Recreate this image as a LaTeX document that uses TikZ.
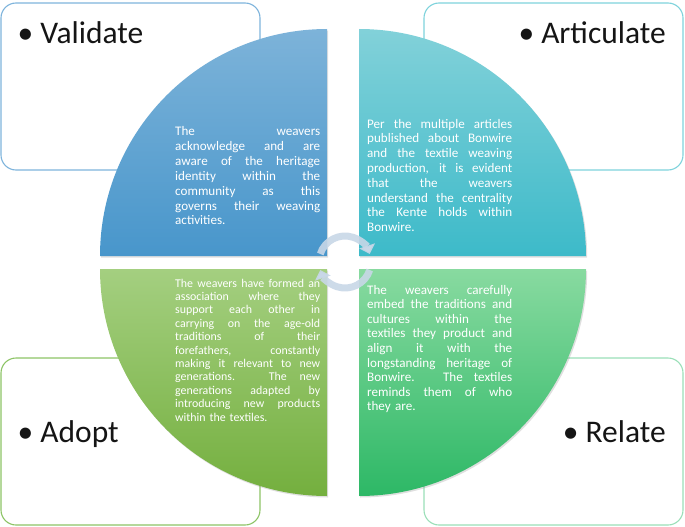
\documentclass[tikz,border=0pt]{standalone}
\usepackage{fontspec}
\setmainfont{Carlito}
\usetikzlibrary{arrows.meta,shadows}
\definecolor{bluetop}{HTML}{7DB3D9}
\definecolor{bluebot}{HTML}{4896CB}
\definecolor{tealtop}{HTML}{82D1D9}
\definecolor{tealbot}{HTML}{3DBAC9}
\definecolor{lgtop}{HTML}{A4CF80}
\definecolor{lgbot}{HTML}{74AF3E}
\definecolor{rgtop}{HTML}{88DAA0}
\definecolor{rgbot}{HTML}{2DB866}
\definecolor{bluebd}{HTML}{7EB4DC}
\definecolor{tealbd}{HTML}{7ED3DC}
\definecolor{lgbd}{HTML}{8DC466}
\definecolor{rgbd}{HTML}{9ADFB8}
\definecolor{cyccol}{HTML}{C8D7E7}
\definecolor{labcol}{HTML}{151515}
\newcommand{\jl}[1]{{\spaceskip=0pt\xspaceskip=0pt\makebox[145pt][s]{#1}}}
\begin{document}
\begin{tikzpicture}[x=1pt,y=-1pt,
  framebox/.style={draw, line width=1.1pt, fill=white, rounded corners=15pt,
    minimum width=259pt, minimum height=167pt, inner sep=0pt},
  quad/.style={drop shadow={opacity=0.25, shadow xshift=1.2pt, shadow yshift=-1.5pt}},
  lab/.style={inner sep=0pt, font=\fontsize{31.5}{36}\selectfont, text=labcol},
  body/.style={inner sep=0pt, text width=145pt, align=left, text=white, anchor=base west},
  cyc/.style={line width=7pt, draw=cyccol, draw opacity=0.9},
  tip/.style={-{Triangle[length=8.5pt,width=16pt]}}
]
\useasboundingbox (0,0) rectangle (685,527);

% frames
\node[framebox, draw=bluebd] (vbox) at (130.5,86.5) {};
\node[framebox, draw=tealbd] (abox) at (553.5,86.5) {};
\node[framebox, draw=lgbd] (dbox) at (130.5,441.5) {};
\node[framebox, draw=rgbd] (rbox) at (553.5,441.5) {};

% labels
\node[lab, anchor=base west] (vlab) at (17.5,44) {•\hspace{7pt}Validate};
\node[lab, anchor=base east] (alab) at (666,44) {•\hspace{7pt}Articulate};
\node[lab, anchor=base west] (dlab) at (17.5,442) {•\hspace{7pt}Adopt};
\node[lab, anchor=base east] (rlab) at (666,442) {•\hspace{7pt}Relate};

% quadrants
\path[quad, top color=bluetop, bottom color=bluebot]
  (327,256) -- (100,256) arc[start angle=180, end angle=270, radius=227] -- cycle;
\path[quad, top color=tealtop, bottom color=tealbot]
  (359,256) -- (359,29) arc[start angle=270, end angle=360, radius=227] -- cycle;
\path[quad, top color=lgtop, bottom color=lgbot]
  (327,269) -- (327,496) arc[start angle=90, end angle=180, radius=227] -- cycle;
\path[quad, top color=rgtop, bottom color=rgbot]
  (359,269) -- (586,269) arc[start angle=0, end angle=90, radius=227] -- cycle;

% cycle arrows
\coordinate (c) at (345,262);
\draw[cyc, tip] ([shift={(198:26)}]c) arc[start angle=198, end angle=342, radius=26];
\draw[cyc, tip] ([shift={(18:26)}]c) arc[start angle=18, end angle=162, radius=26];

% texts
\node[body, font=\fontsize{13.1}{14.9}\selectfont] (vtxt) at (175,135.5) {%
\jl{The weavers}\\
\jl{acknowledge and are}\\
\jl{aware of the heritage}\\
\jl{identity within the}\\
\jl{community as this}\\
\jl{governs their weaving}\\
activities.};

\node[body, font=\fontsize{13.1}{14.8}\selectfont] (atxt) at (367,128) {%
\jl{Per the multiple articles}\\
\jl{published about Bonwire}\\
\jl{and the textile weaving}\\
\jl{production, it is evident}\\
\jl{that the weavers}\\
\jl{understand the centrality}\\
\jl{the Kente holds within}\\
Bonwire.};

\node[body, font=\fontsize{11.9}{13.4}\selectfont] (dtxt) at (175,287) {%
\jl{The weavers have formed an}\\
\jl{association where they}\\
\jl{support each other in}\\
\jl{carrying on the age-old}\\
\jl{traditions of their}\\
\jl{forefathers, constantly}\\
\jl{making it relevant to new}\\
\jl{generations. The new}\\
\jl{generations adapted by}\\
\jl{introducing new products}\\
within the textiles.};

\node[body, font=\fontsize{13.1}{14.6}\selectfont] (rtxt) at (367,294) {%
\jl{The weavers carefully}\\
\jl{embed the traditions and}\\
\jl{cultures within the}\\
\jl{textiles they product and}\\
\jl{align it with the}\\
\jl{longstanding heritage of}\\
\jl{Bonwire. The textiles}\\
\jl{reminds them of who}\\
they are.};
\end{tikzpicture}
\end{document}
